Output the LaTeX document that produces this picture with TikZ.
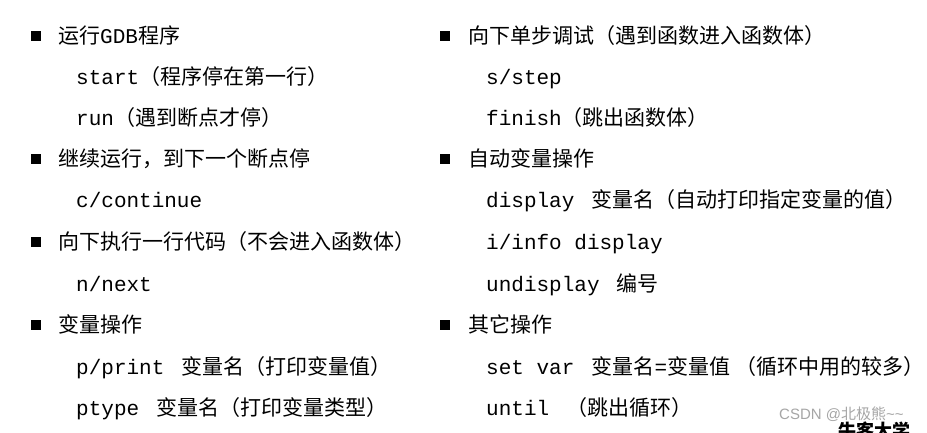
\documentclass[tikz,border=0pt]{standalone}
\usepackage{fontspec}
\setmainfont{Noto Sans CJK SC}
\newfontfamily\mono{Liberation Mono}
\begin{document}
\begin{tikzpicture}[x=1pt,y=-1pt,
  t/.style={anchor=base west,inner sep=0,font=\fontsize{21}{22}\selectfont},
  bul/.style={fill=black,minimum size=10pt,inner sep=0}]
\useasboundingbox[fill=white] (0,0) rectangle (927,432);
\foreach \n/\x/\y in {b1/36/36,b2/36/159,b3/36/242,b4/36/325,b5/445/36,b6/445/159,b7/445/325}
  \node[bul] (\n) at (\x,\y) {};
\node[t] (l1) at (58,43) {运行{\mono GDB}程序};
\node[t] (l2) at (76,84) {{\mono start}（程序停在第一行）};
\node[t] (l3) at (76,125) {{\mono run}（遇到断点才停）};
\node[t] (l4) at (58,166) {继续运行，到下一个断点停};
\node[t] (l5) at (76,207) {\mono c/continue};
\node[t] (l6) at (58,249) {向下执行一行代码（不会进入函数体）};
\node[t] (l7) at (76,291) {\mono n/next};
\node[t] (l8) at (58,332) {变量操作};
\node[t] (l9) at (76,374) {{\mono p/print\ } 变量名（打印变量值）};
\node[t] (l10) at (76,415) {{\mono ptype\ } 变量名（打印变量类型）};
\node[t] (r1) at (468,43) {向下单步调试（遇到函数进入函数体）};
\node[t] (r2) at (486,84) {\mono s/step};
\node[t] (r3) at (486,125) {{\mono finish}（跳出函数体）};
\node[t] (r4) at (468,166) {自动变量操作};
\node[t] (r5) at (486,207) {{\mono display\ } 变量名（自动打印指定变量的值）};
\node[t] (r6) at (486,249) {\mono i/info display};
\node[t] (r7) at (486,291) {{\mono undisplay\ } 编号};
\node[t] (r8) at (468,332) {其它操作};
\node[t] (r9) at (486,374) {{\mono set var\ } 变量名{\mono =}变量值 （循环中用的较多）};
\node[t] (r10) at (486,415) {{\mono until\ } （跳出循环）};
\node[anchor=base west,inner sep=0,text=gray!70,font=\fontsize{15}{15}\selectfont] (wm) at (779,419) {{\fontspec{Liberation Sans}CSDN @}北极熊{\fontspec{Liberation Sans}\textasciitilde\textasciitilde}};
\node[anchor=base west,inner sep=0,font=\bfseries\fontsize{18}{18}\selectfont] (logo) at (838,437) {牛客大学};
\end{tikzpicture}
\end{document}
